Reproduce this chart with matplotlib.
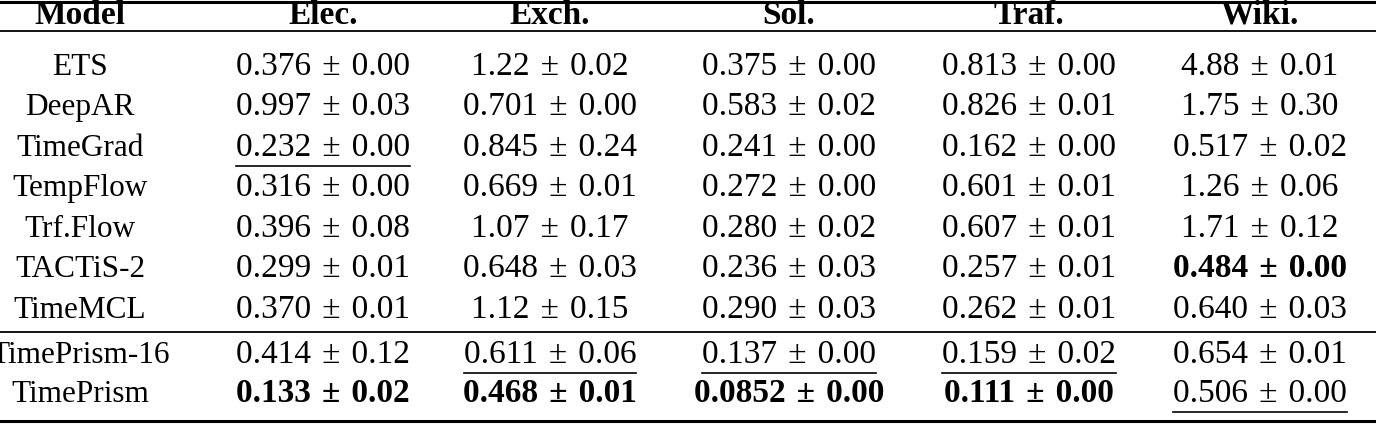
import matplotlib.pyplot as plt

plt.rcParams["font.family"] = ["Liberation Serif", "DejaVu Serif"]

COLUMNS = ["Model", "Elec.", "Exch.", "Sol.", "Traf.", "Wiki."]
MODELS = ["ETS", "DeepAR", "TimeGrad", "TempFlow", "Trf.Flow", "TACTiS-2", "TimeMCL",
          "TimePrism-16", "TimePrism"]
MEANS = [
    ["0.376", "1.22", "0.375", "0.813", "4.88"],
    ["0.997", "0.701", "0.583", "0.826", "1.75"],
    ["0.232", "0.845", "0.241", "0.162", "0.517"],
    ["0.316", "0.669", "0.272", "0.601", "1.26"],
    ["0.396", "1.07", "0.280", "0.607", "1.71"],
    ["0.299", "0.648", "0.236", "0.257", "0.484"],
    ["0.370", "1.12", "0.290", "0.262", "0.640"],
    ["0.414", "0.611", "0.137", "0.159", "0.654"],
    ["0.133", "0.468", "0.0852", "0.111", "0.506"],
]
STDS = [
    ["0.00", "0.02", "0.00", "0.00", "0.01"],
    ["0.03", "0.00", "0.02", "0.01", "0.30"],
    ["0.00", "0.24", "0.00", "0.00", "0.02"],
    ["0.00", "0.01", "0.00", "0.01", "0.06"],
    ["0.08", "0.17", "0.02", "0.01", "0.12"],
    ["0.01", "0.03", "0.03", "0.01", "0.00"],
    ["0.01", "0.15", "0.03", "0.01", "0.03"],
    ["0.12", "0.06", "0.00", "0.02", "0.01"],
    ["0.02", "0.01", "0.00", "0.00", "0.00"],
]
BOLD = {(5, 4), (8, 0), (8, 1), (8, 2), (8, 3)}
UNDERLINE = {(2, 0), (7, 1), (7, 2), (7, 3), (8, 4)}

W, H = 1376, 426
fig = plt.figure(figsize=(W / 100, H / 100), dpi=100)
ax = fig.add_axes([0, 0, 1, 1])
ax.set_xlim(0, W)
ax.set_ylim(H, 0)
ax.axis("off")

col_x = [80, 323, 550, 789, 1029, 1260]
row_base = [75, 115, 156, 196, 237, 277, 318, 363, 402]
fs = 24

for x, c in zip(col_x, COLUMNS):
    ax.text(x, 24, c, ha="center", va="baseline", fontsize=fs, fontweight="bold")

texts = []
for i, m in enumerate(MODELS):
    ax.text(col_x[0], row_base[i], m, ha="center", va="baseline", fontsize=22.5)
    for j in range(5):
        s = f"{MEANS[i][j]}\u2004\u00b1\u2004{STDS[i][j]}"
        t = ax.text(col_x[j + 1], row_base[i], s, ha="center", va="baseline", fontsize=fs,
                    fontweight="bold" if (i, j) in BOLD else "normal")
        if (i, j) in UNDERLINE:
            texts.append((t, row_base[i]))

for y, lw in [(2, 2.2), (31, 1.3), (332, 1.3), (421, 2.2)]:
    ax.plot([0, W], [y, y], color="black", lw=lw)

fig.canvas.draw()
r = fig.canvas.get_renderer()
for t, y in texts:
    bb = t.get_window_extent(r)
    ax.plot([bb.x0, bb.x1], [y + 10, y + 10], color="black", lw=1.2)

fig.savefig("out.png", dpi=100)
